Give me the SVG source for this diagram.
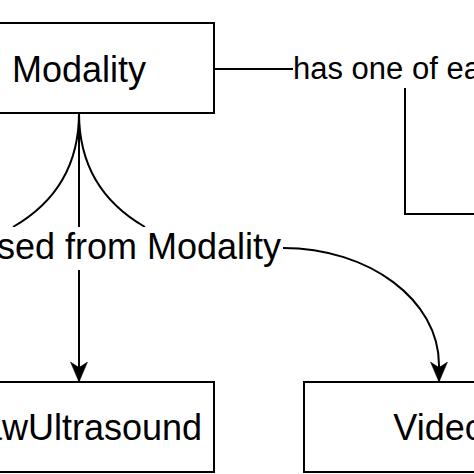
<svg xmlns="http://www.w3.org/2000/svg" width="474" height="474" viewBox="0 0 474 474">
  <style>
    .box { fill: #ffffff; stroke: #000000; stroke-width: 2; }
    .edge { fill: none; stroke: #000000; stroke-width: 2; }
    .lbl { font-family: "Liberation Sans", Arial, Helvetica, sans-serif; font-size: 36px; fill: #000000; }
    .small { font-size: 31px; }
    .lblbg { fill: #ffffff; stroke: none; }
  </style>
  <defs>
    <marker id="arrow" viewBox="0 0 20 20" refX="20" refY="10" markerWidth="20" markerHeight="20" markerUnits="userSpaceOnUse" orient="auto">
      <path d="M0,1.5 L20,10 L0,18.5 L5.5,10 Z" fill="#000000" stroke="#000000" stroke-width="0.5" stroke-linejoin="miter"/>
    </marker>
  </defs>
  <rect width="474" height="474" fill="#ffffff"/>

  <g id="connectors">
    <g id="edge-has-one-of-each">
      <path class="edge" d="M214,69 L405,69 L405,214 L480,214"/>
      <rect class="lblbg" x="293" y="50" width="190" height="38"/>
      <text class="lbl small" x="293" y="78.5">has one of each</text>
    </g>
    <g id="edge-parsed-from-modality">
      <path class="edge" d="M79,113 L79,382" marker-end="url(#arrow)"/>
      <path class="edge" d="M79,113 Q79,189 13,227"/>
      <path class="edge" d="M79,113 Q79,189 145,227"/>
      <path class="edge" d="M283,248 C369,248 439,300 439,365 L439,382" marker-end="url(#arrow)"/>
      <rect class="lblbg" x="-10" y="227" width="293" height="43"/>
      <text class="lbl" x="281" y="258.5" text-anchor="end">sed from Modality</text>
    </g>
  </g>

  <g id="node-modality">
    <rect class="box" x="-56" y="23" width="270" height="90"/>
    <text class="lbl" x="79" y="81.5" text-anchor="middle">Modality</text>
  </g>

  <g id="node-rawultrasound">
    <rect class="box" x="-56" y="382" width="270" height="90"/>
    <text class="lbl" x="79" y="440" text-anchor="middle">RawUltrasound</text>
  </g>

  <g id="node-video">
    <rect class="box" x="304" y="382" width="270" height="90"/>
    <text class="lbl" x="439" y="440" text-anchor="middle">Video</text>
  </g>
</svg>
